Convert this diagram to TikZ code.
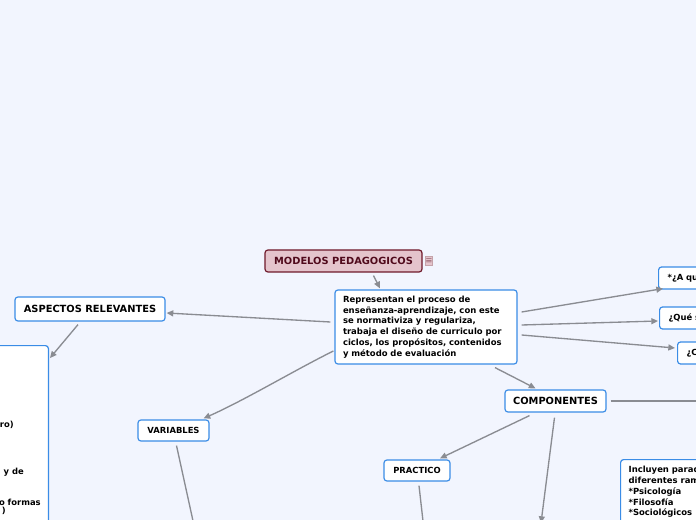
\documentclass[tikz,border=0pt]{standalone}
\usepackage{fontspec}
\setmainfont{DejaVu Sans}
\usetikzlibrary{positioning,calc,arrows.meta}

\definecolor{canvas}{RGB}{242,245,254}
\definecolor{boxblue}{RGB}{58,140,230}
\definecolor{linkgray}{RGB}{138,140,146}
\definecolor{rootfill}{RGB}{228,196,204}
\definecolor{rootline}{RGB}{110,24,42}
\definecolor{roottext}{RGB}{80,10,28}

\tikzset{
  boxsize/.style 2 args={minimum width=#1*0.75pt, minimum height=#2*0.75pt},
  topic/.style={draw=boxblue, fill=white, line width=0.9pt, rounded corners=2.2pt,
    inner sep=0pt, font=\bfseries\fontsize{7.4}{9}\selectfont},
  subtopic/.style={topic, font=\bfseries\fontsize{6.3}{7}\selectfont},
  textbox/.style={topic, font=\bfseries\fontsize{6.35}{8.1}\selectfont, align=left,
    inner xsep=6pt, inner ysep=4pt},
  root/.style={topic, draw=rootline, fill=rootfill, text=roottext},
  frag/.style={font=\bfseries\fontsize{6.3}{7}\selectfont, inner sep=0pt},
  link/.style={draw=linkgray, line width=1pt, -{Triangle[length=5pt,width=4.5pt]}},
  plainlink/.style={draw=linkgray, line width=1pt}
}

\begin{document}
\begin{tikzpicture}[x=0.75pt, y=-0.75pt]
\fill[canvas] (0,0) rectangle (696,520);
\useasboundingbox (0,0) rectangle (696,520);

% central idea
\node[root, boxsize={157}{22}] (modelos) at (343.5,261) {MODELOS PEDAGOGICOS};
\node[draw=rootline!40, fill=rootfill, inner sep=0pt, boxsize={7}{9}, font=\fontsize{5}{5}\selectfont, text=roottext] (nota) at (429,261) {$\equiv$};
\node[textbox, text width=166*0.75pt, boxsize={180}{74}] (main) at (426,327)
  {Representan el proceso de\\ enseñanza-aprendizaje, con este\\ se normativiza y regulariza,\\ trabaja el diseño de curriculo por\\ ciclos, los propósitos, contenidos\\ y método de evaluación};

% first level
\node[topic, boxsize={150}{24}] (aspectos) at (90,309) {ASPECTOS RELEVANTES};
\node[topic, boxsize={101}{22}] (componentes) at (555.5,401) {COMPONENTES};
\node[subtopic, boxsize={71}{21}] (variables) at (173.5,430.5) {VARIABLES};
\node[subtopic, anchor=west, text width=71*0.75pt, align=left, inner xsep=9*0.75pt, boxsize={80}{22}] (aquien) at (658,278) {*¿A qu};
\node[subtopic, anchor=west, text width=71*0.75pt, align=left, inner xsep=9*0.75pt, boxsize={80}{22}] (quese) at (659,318) {¿Qué s};
\node[subtopic, anchor=west, text width=71*0.75pt, align=left, inner xsep=9*0.75pt, boxsize={80}{22}] (como) at (677,353) {¿C};

% second level
\node[subtopic, boxsize={66}{21}] (practico) at (417,470.5) {PRACTICO};
\node[textbox, anchor=north west, text width=100*0.75pt, inner ysep=5pt] (ramas) at (620,459)
  {Incluyen parad\\ diferentes ram\\{}*Psicología\\{}*Filosofía\\{}*Sociológicos};
\node[topic, anchor=north east, boxsize={110}{200}] (lista) at (49,345) {};
\node[frag, anchor=east] (frag1) at (14,425) {ro)};
\node[frag, anchor=east] (frag2) at (24,472) {y de};
\node[frag, anchor=east] (frag3) at (41,502) {o formas};
\node[frag, anchor=east] (frag4) at (6,511) {)};

\coordinate (salida) at (700,401);
\coordinate (abajo1) at (541,523);
\coordinate (abajo2) at (424,530);
\coordinate (abajo3) at (195,530);

% connectors
\draw[link] ($(modelos.south)+(30,3)$) -- ($(main.north)+(-46,-1)$);
\draw[link] ($(main.west)+(-4,-5)$) -- ($(aspectos.east)+(1,4)$);
\draw[link] ($(aspectos.south)+(-12,3)$) -- ($(lista.north east)+(1,13)$);
\draw[link] ($(main.west)+(-1,24)$) .. controls (295,370) and (245,400) .. ($(variables.north east)+(-6,-1)$);
\draw[link] ($(main.east)+(4,-15)$) -- ($(aquien.south west)+(5,-1)$);
\draw[link] ($(main.east)+(4,-2)$) -- ($(quese.west)+(-1,3)$);
\draw[link] ($(main.east)+(4,8)$) -- ($(como.west)+(-2,-5)$);
\draw[link] ($(main.south)+(69,3)$) -- ($(componentes.north)+(-20,-1)$);
\draw[plainlink] ($(componentes.east)+(4,0)$) -- (salida);
\draw[link] ($(componentes.south)+(-26,3)$) -- ($(practico.north)+(23,-1)$);
\draw[link] ($(componentes.south)+(-1,5)$) -- (abajo1);
\draw[plainlink] ($(practico.south)+(2,4)$) -- (abajo2);
\draw[plainlink] ($(variables.south)+(3,4)$) -- (abajo3);
\end{tikzpicture}
\end{document}
